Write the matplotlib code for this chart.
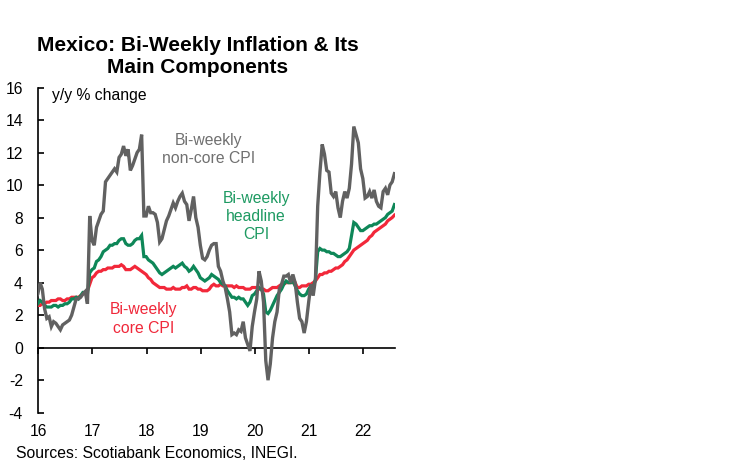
import matplotlib
matplotlib.use("Agg")
import matplotlib.pyplot as plt
import matplotlib.transforms as mtransforms
import numpy as np

plt.rcParams['font.family'] = ['Liberation Sans', 'DejaVu Sans']
plt.rcParams['axes.unicode_minus'] = False

# Bi-weekly observations, 1H Jan 2016 .. 2H Aug 2022 (24 per year)
noncore = [
    # 2016
    3.0, 3.3, 4.0, 3.6, 2.4, 1.8, 1.9, 1.3, 1.6, 1.5, 1.3, 1.1,
    1.4, 1.5, 1.6, 1.7, 2.0, 2.5, 3.0, 3.0, 3.1, 3.3, 3.45, 2.7,
    # 2017
    8.1, 6.6, 6.3, 7.4, 7.8, 8.2, 8.4, 10.2, 10.4, 10.6, 10.8, 11.0,
    10.8, 11.7, 11.9, 12.4, 11.8, 12.2, 10.9, 11.2, 11.6, 12.0, 12.2, 13.1,
    # 2018
    8.1, 8.1, 8.7, 8.3, 8.3, 8.2, 7.7, 6.5, 6.7, 7.25, 7.8, 8.1,
    8.5, 8.9, 8.6, 9.0, 9.3, 9.5, 9.0, 8.8, 7.8, 8.5, 9.3, 8.0,
    # 2019
    7.4, 6.3, 5.5, 5.4, 5.6, 6.0, 6.3, 6.4, 6.4, 5.0, 4.7, 4.1,
    3.7, 3.0, 2.2, 0.8, 0.9, 0.8, 1.1, 1.0, 1.6, 0.6, 0.2, -0.2,
    # 2020
    1.3, 2.2, 3.0, 4.7, 4.1, 2.8, -0.8, -2.0, -1.0, 0.6, 1.6, 2.2,
    3.6, 3.9, 4.4, 4.4, 4.5, 4.0, 4.5, 4.0, 2.8, 1.8, 1.6, 0.9,
    # 2021
    1.6, 2.8, 3.9, 3.2, 4.2, 8.7, 10.8, 12.5, 11.9, 10.9, 10.8, 9.5,
    9.3, 9.6, 8.6, 8.0, 9.0, 9.6, 9.2, 9.8, 11.3, 13.6, 13.1, 12.6,
    # 2022
    11.0, 10.4, 9.2, 9.3, 9.6, 9.2, 9.7, 9.0, 8.7, 8.6, 9.6, 9.8,
    9.4, 10.0, 10.2, 10.7,
]

headline = [
    # 2016
    2.5, 2.7, 2.9, 2.8, 2.6, 2.5, 2.5, 2.5, 2.6, 2.6, 2.5, 2.6,
    2.6, 2.7, 2.7, 2.8, 3.0, 3.0, 3.1, 3.0, 3.2, 3.4, 3.4, 3.3,
    # 2017
    4.6, 4.8, 4.9, 5.3, 5.4, 5.6, 5.9, 6.0, 6.1, 6.3, 6.3, 6.4,
    6.4, 6.6, 6.7, 6.7, 6.4, 6.3, 6.3, 6.4, 6.6, 6.7, 6.7, 6.9,
    # 2018
    5.6, 5.6, 5.4, 5.3, 5.2, 5.0, 4.8, 4.6, 4.5, 4.6, 4.7, 4.8,
    4.9, 5.0, 4.9, 5.0, 5.1, 5.2, 5.0, 4.9, 4.7, 4.8, 5.0, 4.8,
    # 2019
    4.6, 4.3, 4.2, 4.1, 4.2, 4.3, 4.5, 4.4, 4.3, 4.2, 4.0, 3.9,
    3.8, 3.5, 3.3, 3.1, 3.1, 3.0, 3.1, 3.0, 3.0, 2.8, 2.6, 2.8,
    # 2020
    3.2, 3.3, 3.5, 3.7, 3.6, 3.3, 2.2, 2.1, 2.3, 2.6, 2.9, 3.2,
    3.4, 3.6, 3.9, 4.1, 4.0, 4.0, 4.1, 3.8, 3.5, 3.3, 3.2, 3.2,
    # 2021
    3.3, 3.6, 3.8, 3.7, 4.2, 5.9, 6.1, 6.0, 6.0, 5.9, 5.9, 5.8,
    5.8, 5.7, 5.6, 5.6, 5.7, 5.8, 5.9, 6.1, 6.9, 7.7, 7.6, 7.4,
    # 2022
    7.2, 7.2, 7.3, 7.4, 7.5, 7.5, 7.6, 7.6, 7.7, 7.8, 7.9, 8.0,
    8.2, 8.3, 8.4, 8.8,
]

core = [
    # 2016
    2.6, 2.6, 2.6, 2.7, 2.7, 2.8, 2.8, 2.9, 2.9, 2.9, 3.0, 3.0,
    2.9, 2.9, 3.0, 3.0, 3.1, 3.1, 3.1, 3.1, 3.2, 3.3, 3.4, 3.5,
    # 2017
    3.9, 4.3, 4.4, 4.6, 4.7, 4.7, 4.8, 4.8, 4.9, 4.9, 4.9, 5.0,
    5.0, 5.0, 5.1, 5.0, 4.8, 4.8, 4.8, 4.9, 5.0, 4.9, 4.8, 4.7,
    # 2018
    4.6, 4.5, 4.3, 4.2, 4.0, 3.9, 3.8, 3.7, 3.7, 3.7, 3.6, 3.6,
    3.6, 3.7, 3.6, 3.6, 3.6, 3.7, 3.7, 3.8, 3.6, 3.6, 3.7, 3.7,
    # 2019
    3.6, 3.6, 3.5, 3.5, 3.5, 3.6, 3.8, 3.9, 3.8, 3.8, 3.9, 3.8,
    3.8, 3.8, 3.8, 3.8, 3.7, 3.8, 3.7, 3.7, 3.7, 3.6, 3.6, 3.6,
    # 2020
    3.7, 3.7, 3.7, 3.6, 3.6, 3.6, 3.5, 3.5, 3.6, 3.7, 3.7, 3.7,
    3.8, 3.9, 3.9, 4.0, 4.0, 4.0, 4.0, 4.0, 3.7, 3.7, 3.8, 3.8,
    # 2021
    3.8, 3.9, 3.9, 4.0, 4.1, 4.3, 4.5, 4.5, 4.6, 4.6, 4.7, 4.7,
    4.8, 4.9, 4.9, 5.0, 5.1, 5.3, 5.4, 5.6, 5.8, 6.0, 6.1, 6.2,
    # 2022
    6.3, 6.4, 6.5, 6.6, 6.8, 6.9, 7.1, 7.2, 7.3, 7.4, 7.5, 7.6,
    7.8, 7.9, 8.0, 8.15,
]

year_ticks = [2016, 2017, 2018, 2019, 2020, 2021, 2022]
year_labels = ['16', '17', '18', '19', '20', '21', '22']
y_ticks = list(range(-4, 17, 2))

GREY = '#616161'
GREEN = '#0e8758'
RED = '#f2283a'
FS = 11.3

n = len(noncore)
x = 2016 + (np.arange(n) - 1.2) / 24.0

fig = plt.figure(figsize=(7.5, 4.72), dpi=100)
ax = fig.add_axes([0.051, 0.1256, 0.476, 0.689])

ax.plot(x, core, color=RED, lw=2.3, solid_joinstyle='miter', zorder=3)
ax.plot(x, headline, color=GREEN, lw=2.3, solid_joinstyle='miter', zorder=4)
ax.plot(x, noncore, color=GREY, lw=2.4, solid_joinstyle='miter', zorder=5)

ax.set_xlim(2016, 2022.59)
ax.set_ylim(-4, 16)

for s in ['top', 'right']:
    ax.spines[s].set_visible(False)
ax.spines['bottom'].set_position(('data', 0))
ax.spines['left'].set_color('black')
ax.spines['bottom'].set_color('black')
ax.spines['left'].set_linewidth(1.2)
ax.spines['bottom'].set_linewidth(1.2)

ax.set_yticks(y_ticks)
ax.set_yticklabels([str(v) for v in y_ticks])
ax.tick_params(axis='y', direction='in', length=4, width=1.2, pad=11,
               labelsize=FS, colors='black')
ax.set_xticks(year_ticks)
ax.set_xticklabels([])
ax.tick_params(axis='x', direction='out', length=4, width=1.2)

trans = mtransforms.blended_transform_factory(ax.transData, ax.transAxes)
for yr, lab in zip(year_ticks, year_labels):
    ax.text(yr, -0.058, lab, transform=trans, ha='center', va='center',
            fontsize=FS, color='black')

ax.text(2016.25, 15.5, 'y/y % change', fontsize=FS, ha='left', va='center')

ax.text(2019.14, 12.2, 'Bi-weekly\nnon-core CPI', color='#707070', fontsize=FS,
        ha='center', va='center', linespacing=1.28)
ax.text(2020.02, 8.07, 'Bi-weekly\nheadline\nCPI', color='#1e9a62', fontsize=FS,
        ha='center', va='center', linespacing=1.28)
ax.text(2017.94, 1.77, 'Bi-weekly\ncore CPI', color='#f0283a', fontsize=FS,
        ha='center', va='center', linespacing=1.28)

fig.text(0.264, 0.880, 'Mexico: Bi-Weekly Inflation & Its\nMain Components',
         ha='center', va='center', fontsize=15, fontweight='bold', linespacing=1.2)
fig.text(0.022, 0.040, 'Sources: Scotiabank Economics, INEGI.', fontsize=FS,
         ha='left', va='center')

fig.savefig('out.png', dpi=100)
